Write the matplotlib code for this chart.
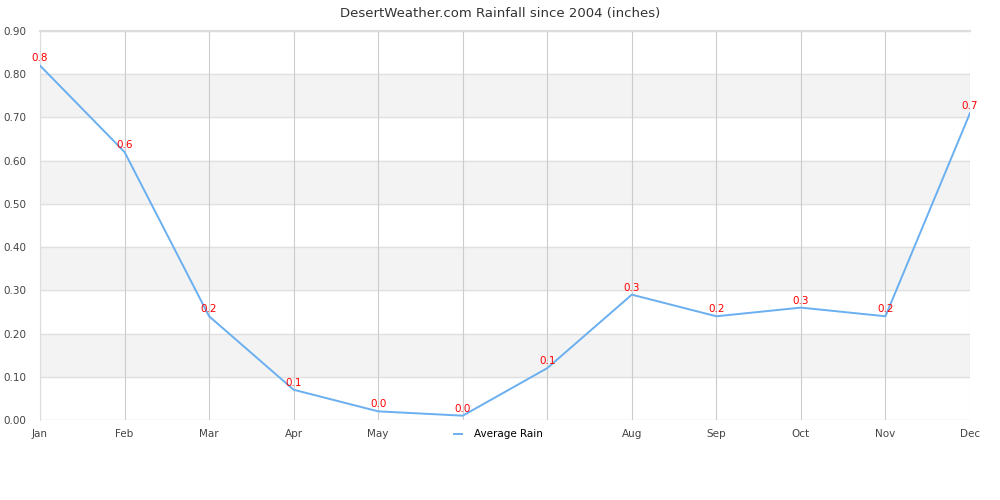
import numpy as np
import matplotlib
matplotlib.use("Agg")
import matplotlib.pyplot as plt

months = ["Jan", "Feb", "Mar", "Apr", "May", "Jun", "Jul", "Aug", "Sep", "Oct", "Nov", "Dec"]
rain = [0.82, 0.62, 0.24, 0.07, 0.02, 0.01, 0.12, 0.29, 0.24, 0.26, 0.24, 0.71]
yticks = [0.0, 0.1, 0.2, 0.3, 0.4, 0.5, 0.6, 0.7, 0.8, 0.9]

def run():
    fig = plt.figure(figsize=(10, 5), dpi=100)
    ax = fig.add_axes([0.04, 0.16, 0.93, 0.778])
    x = np.arange(len(months))

    # alternating bands
    for i in range(len(yticks) - 1):
        if i % 2 == 1:
            ax.axhspan(yticks[i], yticks[i + 1], color="#f3f3f3", zorder=0)
    for y in yticks:
        ax.axhline(y, color="#e0e0e0", lw=1, zorder=1)
    for xi in x:
        ax.axvline(xi, color="#cccccc", lw=0.8, zorder=1)

    ax.plot(x, rain, color="#6aaff0", lw=1.4, zorder=3, label="Average Rain")
    for xi, v in zip(x, rain):
        ax.annotate("%.1f" % v, (xi, v), xytext=(0, 1.5), textcoords="offset points",
                    ha="center", va="bottom", color="red", fontsize=7.5, zorder=4)

    ax.set_xlim(0, len(months) - 1)
    ax.set_ylim(0, 0.9)
    ax.set_xticks(x)
    ax.set_xticklabels(months)
    ax.set_yticks(yticks)
    ax.set_yticklabels(["%.2f" % y for y in yticks])
    for lbl in ax.get_xticklabels()[5:7]:
        lbl.set_visible(False)
    ax.tick_params(length=0, labelsize=7.5, colors="#444444")
    ax.tick_params(axis="x", pad=6.5)
    ax.tick_params(axis="y", pad=26.5)
    for lbl in ax.get_yticklabels():
        lbl.set_horizontalalignment("left")
    for s in ["bottom", "right"]:
        ax.spines[s].set_visible(False)
    ax.spines["top"].set_color("#dddddd")
    ax.spines["top"].set_linewidth(1.5)
    ax.spines["left"].set_color("#dddddd")

    ax.legend(loc="upper center", bbox_to_anchor=(0.493, 0.0), frameon=False,
              fontsize=7.5, handlelength=0.8, handletextpad=1.2)
    fig.suptitle("DesertWeather.com Rainfall since 2004 (inches)", y=0.985,
                 fontsize=9.5, color="#333333")
    fig.savefig("out.png")

if __name__ == "__main__":
    run()
